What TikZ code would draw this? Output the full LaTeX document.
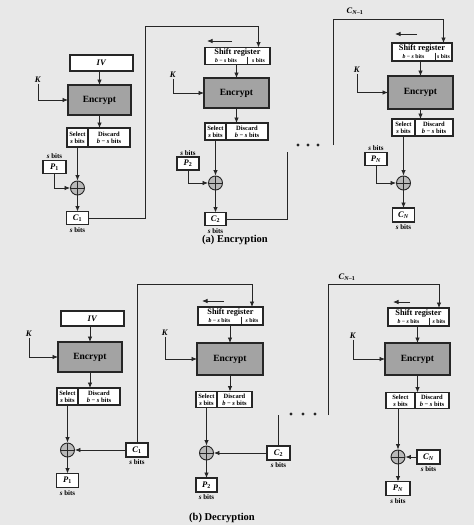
\documentclass[tikz,border=0pt]{standalone}
\usepackage{fontspec}
\setmainfont{Liberation Serif}
\usetikzlibrary{positioning, arrows.meta, calc}
\newcommand{\bit}[1]{\textbf{\textit{#1}}}
\tikzset{
  plainbox/.style={draw=black!85, line width=1.1pt, fill=white, inner sep=0pt, outer sep=0pt,
    font=\fontsize{8.5}{8.5}\selectfont\bfseries},
  encbox/.style={plainbox, fill=gray!72, font=\fontsize{9.5}{9.5}\selectfont\bfseries},
  halfbox/.style={plainbox, align=center, font=\fontsize{6.5}{6.6}\selectfont\bfseries},
  xorsym/.style={circle, draw=black!85, line width=0.9pt, fill=gray!55, minimum size=14pt,
    inner sep=0pt, path picture={\draw[black!85, line width=0.7pt]
      (path picture bounding box.north) -- (path picture bounding box.south)
      (path picture bounding box.west) -- (path picture bounding box.east);}},
  wire/.style={draw=black!85, line width=0.8pt},
  flow/.style={wire, -{Latex[length=5.5pt,width=4.5pt]}},
  sbits/.style={font=\fontsize{7}{7}\selectfont\bfseries, inner sep=0.5pt},
  keylabel/.style={font=\fontsize{8.5}{8.5}\selectfont, inner sep=1pt},
  srtext/.style={font=\fontsize{8.3}{8.5}\selectfont\bfseries, inner sep=0pt},
  srsmall/.style={font=\fontsize{5.8}{6}\selectfont\bfseries, inner sep=0pt},
  ellipsisdot/.style={circle, fill=black!85, inner sep=0pt, minimum size=3.2pt},
  figcaption/.style={font=\fontsize{10.5}{11}\selectfont\bfseries}
}

\begin{document}
\begin{tikzpicture}[x=1pt, y=-1pt]
\fill[black!9] (0,0) rectangle (474,525);
\useasboundingbox (0,0) rectangle (474,525);

% (a) Encryption, first stage
\node[plainbox, minimum width=63, minimum height=16] (iv1) at (101.5,63) {\bit{IV}};
\node[encbox, minimum width=63, minimum height=30] (enc1) at (99.5,100) {Encrypt};
\node[halfbox, minimum width=21, minimum height=19] (sel1) at (77.5,137.5) {Select\\\bit{s} bits};
\node[halfbox, minimum width=42, minimum height=19, anchor=west] (dis1) at (sel1.east) {Discard\\\bit{b} − \bit{s} bits};
\node[xorsym] (xor1) at (77.5,188) {};
\node[plainbox, minimum width=23, minimum height=13] (p1) at (54.5,167) {\bit{P}\textsubscript{\textbf{1}}};
\node[sbits, above=1pt of p1] (p1s) {\bit{s} bits};
\node[plainbox, minimum width=22, minimum height=13] (c1) at (77.5,218) {\bit{C}\textsubscript{\textbf{1}}};
\node[sbits, below=2pt of c1] (c1s) {\bit{s} bits};
\node[keylabel] (k1) at (38,80) {\bit{K}};
\coordinate (fb1) at (145,26);

\draw[flow] (iv1.south -| enc1.north) -- (enc1.north);
\draw[flow] (k1.south) |- (enc1.west);
\draw[flow] (enc1.south) -- (enc1.south |- dis1.north);
\draw[flow] (sel1.south) -- (xor1.north);
\draw[flow] (p1.south) |- (xor1.west);
\draw[flow] (xor1.south) -- (c1.north);

% (a) Encryption, second stage
\node[plainbox, minimum width=65, minimum height=17] (sr2) at (237.5,56) {};
\node[srtext] (sr2t) at (237.5,52.6) {Shift register};
\node[srsmall] (sr2b) at (226,60.8) {\bit{b} − \bit{s} bits};
\node[srsmall] (sr2s) at (258.5,60.8) {\bit{s} bits};
\draw[wire] (247,56.5) -- (247,64.5);
\coordinate (sh2a) at (232,41);
\coordinate (sh2b) at (207,41);
\draw[flow] (sh2a) -- (sh2b);
\node[encbox, minimum width=65, minimum height=30] (enc2) at (236.5,93) {Encrypt};
\node[halfbox, minimum width=21, minimum height=17] (sel2) at (215.5,131.5) {Select\\\bit{s} bits};
\node[halfbox, minimum width=42, minimum height=17, anchor=west] (dis2) at (sel2.east) {Discard\\\bit{b} − \bit{s} bits};
\node[xorsym] (xor2) at (215.5,183) {};
\node[plainbox, minimum width=22, minimum height=13] (p2) at (188,163.5) {\bit{P}\textsubscript{\textbf{2}}};
\node[sbits, above=1pt of p2] (p2s) {\bit{s} bits};
\node[plainbox, minimum width=21, minimum height=13] (c2) at (215.5,219) {\bit{C}\textsubscript{\textbf{2}}};
\node[sbits, below=2pt of c2] (c2s) {\bit{s} bits};
\node[keylabel] (k2) at (173,75) {\bit{K}};
\coordinate (fb2) at (287,152);
\node[ellipsisdot] (da1) at (298,145) {};
\node[ellipsisdot] (da2) at (308,145) {};
\node[ellipsisdot] (da3) at (318,145) {};

\draw[flow] (c1.east) -| (fb1) -| (sr2s |- sr2.north);
\draw[flow] (sr2.south -| enc2.north) -- (enc2.north);
\draw[flow] (k2.south) |- (enc2.west);
\draw[flow] (enc2.south) -- (enc2.south |- dis2.north);
\draw[flow] (sel2.south) -- (xor2.north);
\draw[flow] (p2.south) |- (xor2.west);
\draw[flow] (xor2.south) -- (c2.north);
\draw[wire] (c2.east) -| (fb2);

% (a) Encryption, last stage
\node[plainbox, minimum width=60, minimum height=18] (sr3) at (422,52) {};
\node[srtext] (sr3t) at (422,48.3) {Shift register};
\node[srsmall] (sr3b) at (413.5,57) {\bit{b} − \bit{s} bits};
\node[srsmall] (sr3s) at (443.5,57) {\bit{s} bits};
\draw[wire] (435,52.5) -- (435,61);
\coordinate (sh3a) at (417,34);
\coordinate (sh3b) at (395,34);
\draw[flow] (sh3a) -- (sh3b);
\node[encbox, minimum width=65, minimum height=33] (enc3) at (420.5,92.5) {Encrypt};
\node[halfbox, minimum width=23, minimum height=17] (sel3) at (403.5,127.5) {Select\\\bit{s} bits};
\node[halfbox, minimum width=38, minimum height=17, anchor=west] (dis3) at (sel3.east) {Discard\\\bit{b} − \bit{s} bits};
\node[xorsym] (xor3) at (403.5,183) {};
\node[plainbox, minimum width=22, minimum height=13] (pn) at (376,159) {\bit{P}\textsubscript{\bit{N}}};
\node[sbits, above=1pt of pn] (pns) {\bit{s} bits};
\node[plainbox, minimum width=22, minimum height=14] (cn) at (403.5,215) {\bit{C}\textsubscript{\bit{N}}};
\node[sbits, below=2pt of cn] (cns) {\bit{s} bits};
\node[keylabel] (k3) at (357,70) {\bit{K}};
\coordinate (cna) at (333,145);
\coordinate (cnb) at (333,19);
\node[keylabel] (cnl) at (355,11) {\bit{C}\textsubscript{\bit{N}\textbf{--1}}};

\draw[flow] (cna) -- (cnb) -| (sr3s |- sr3.north);
\draw[flow] (sr3.south -| enc3.north) -- (enc3.north);
\draw[flow] (k3.south) |- (enc3.west);
\draw[flow] (enc3.south) -- (enc3.south |- dis3.north);
\draw[flow] (sel3.south) -- (xor3.north);
\draw[flow] (pn.south) |- (xor3.west);
\draw[flow] (xor3.south) -- (cn.north);

\node[figcaption] (capa) at (235,240) {(a) Encryption};

% (b) Decryption, first stage
\node[plainbox, minimum width=63, minimum height=15] (iv4) at (92.5,318.5) {\bit{IV}};
\node[encbox, minimum width=64, minimum height=30] (enc4) at (90,357) {Encrypt};
\node[halfbox, minimum width=21, minimum height=17] (sel4) at (67.5,396.5) {Select\\\bit{s} bits};
\node[halfbox, minimum width=42, minimum height=17, anchor=west] (dis4) at (sel4.east) {Discard\\\bit{b} − \bit{s} bits};
\node[xorsym] (xor4) at (67.5,450) {};
\node[plainbox, minimum width=22, minimum height=14] (p4) at (67.5,480.5) {\bit{P}\textsubscript{\textbf{1}}};
\node[sbits, below=2pt of p4] (p4s) {\bit{s} bits};
\node[plainbox, minimum width=22, minimum height=14] (c4) at (137,450) {\bit{C}\textsubscript{\textbf{1}}};
\node[sbits, below=1.5pt of c4] (c4s) {\bit{s} bits};
\node[keylabel] (k4) at (29,334) {\bit{K}};
\coordinate (fb4) at (137,284);

\draw[flow] (iv4.south -| enc4.north) -- (enc4.north);
\draw[flow] (k4.south) |- (enc4.west);
\draw[flow] (enc4.south) -- (enc4.south |- dis4.north);
\draw[flow] (sel4.south) -- (xor4.north);
\draw[flow] (c4.west) -- (xor4.east);
\draw[flow] (xor4.south) -- (p4.north);

% (b) Decryption, second stage
\node[plainbox, minimum width=65, minimum height=18] (sr5) at (230.5,316) {};
\node[srtext] (sr5t) at (230.5,312.3) {Shift register};
\node[srsmall] (sr5b) at (219.5,321) {\bit{b} − \bit{s} bits};
\node[srsmall] (sr5s) at (252,321) {\bit{s} bits};
\draw[wire] (241,316.5) -- (241,325);
\coordinate (sh5a) at (224,301);
\coordinate (sh5b) at (202,301);
\draw[flow] (sh5a) -- (sh5b);
\node[encbox, minimum width=66, minimum height=32] (enc5) at (230,359) {Encrypt};
\node[halfbox, minimum width=21, minimum height=16] (sel5) at (206.5,399.5) {Select\\\bit{s} bits};
\node[halfbox, minimum width=35, minimum height=16, anchor=west] (dis5) at (sel5.east) {Discard\\\bit{b} − \bit{s} bits};
\node[xorsym] (xor5) at (206.5,453) {};
\node[plainbox, minimum width=21, minimum height=14] (p5) at (206.5,485) {\bit{P}\textsubscript{\textbf{2}}};
\node[sbits, below=2pt of p5] (p5s) {\bit{s} bits};
\node[plainbox, minimum width=23, minimum height=14] (c5) at (278.5,453) {\bit{C}\textsubscript{\textbf{2}}};
\node[sbits, below=1.5pt of c5] (c5s) {\bit{s} bits};
\node[keylabel] (k5) at (165,333) {\bit{K}};
\coordinate (fb5) at (278.5,415);
\node[ellipsisdot] (db1) at (291,414) {};
\node[ellipsisdot] (db2) at (303,414) {};
\node[ellipsisdot] (db3) at (315,414) {};

\draw[flow] (c4.north) -- (fb4) -| (sr5s |- sr5.north);
\draw[flow] (sr5.south -| enc5.north) -- (enc5.north);
\draw[flow] (k5.south) |- (enc5.west);
\draw[flow] (enc5.south) -- (enc5.south |- dis5.north);
\draw[flow] (sel5.south) -- (xor5.north);
\draw[flow] (c5.west) -- (xor5.east);
\draw[flow] (xor5.south) -- (p5.north);
\draw[wire] (c5.north) -- (fb5);

% (b) Decryption, last stage
\node[plainbox, minimum width=61, minimum height=18] (sr6) at (418.5,317) {};
\node[srtext] (sr6t) at (418.5,313.3) {Shift register};
\node[srsmall] (sr6b) at (408.5,322) {\bit{b} − \bit{s} bits};
\node[srsmall] (sr6s) at (439,322) {\bit{s} bits};
\draw[wire] (429,317.5) -- (429,326);
\coordinate (sh6a) at (410,302);
\coordinate (sh6b) at (393,302);
\draw[flow] (sh6a) -- (sh6b);
\node[encbox, minimum width=65, minimum height=32] (enc6) at (417.5,359) {Encrypt};
\node[halfbox, minimum width=29, minimum height=16] (sel6) at (400.5,400.5) {Select\\\bit{s} bits};
\node[halfbox, minimum width=34, minimum height=16, anchor=west] (dis6) at (sel6.east) {Discard\\\bit{b} − \bit{s} bits};
\node[xorsym] (xor6) at (398,457) {};
\node[plainbox, minimum width=24, minimum height=14] (pn6) at (398,488.5) {\bit{P}\textsubscript{\bit{N}}};
\node[sbits, below=2pt of pn6] (pn6s) {\bit{s} bits};
\node[plainbox, minimum width=23, minimum height=14] (cn6) at (428.5,457) {\bit{C}\textsubscript{\bit{N}}};
\node[sbits, below=1.5pt of cn6] (cn6s) {\bit{s} bits};
\node[keylabel] (k6) at (353,336) {\bit{K}};
\coordinate (cn6a) at (328,415);
\coordinate (cn6b) at (328,284);
\node[keylabel] (cn6l) at (347,277) {\bit{C}\textsubscript{\bit{N}\textbf{--1}}};

\draw[flow] (cn6a) -- (cn6b) -| (sr6s |- sr6.north);
\draw[flow] (sr6.south -| enc6.north) -- (enc6.north);
\draw[flow] (k6.south) |- (enc6.west);
\draw[flow] (enc6.south) -- (enc6.south |- dis6.north);
\draw[flow] (xor6 |- sel6.south) -- (xor6.north);
\draw[flow] (cn6.west) -- (xor6.east);
\draw[flow] (xor6.south) -- (pn6.north);

\node[figcaption] (capb) at (222,518) {(b) Decryption};
\end{tikzpicture}
\end{document}
